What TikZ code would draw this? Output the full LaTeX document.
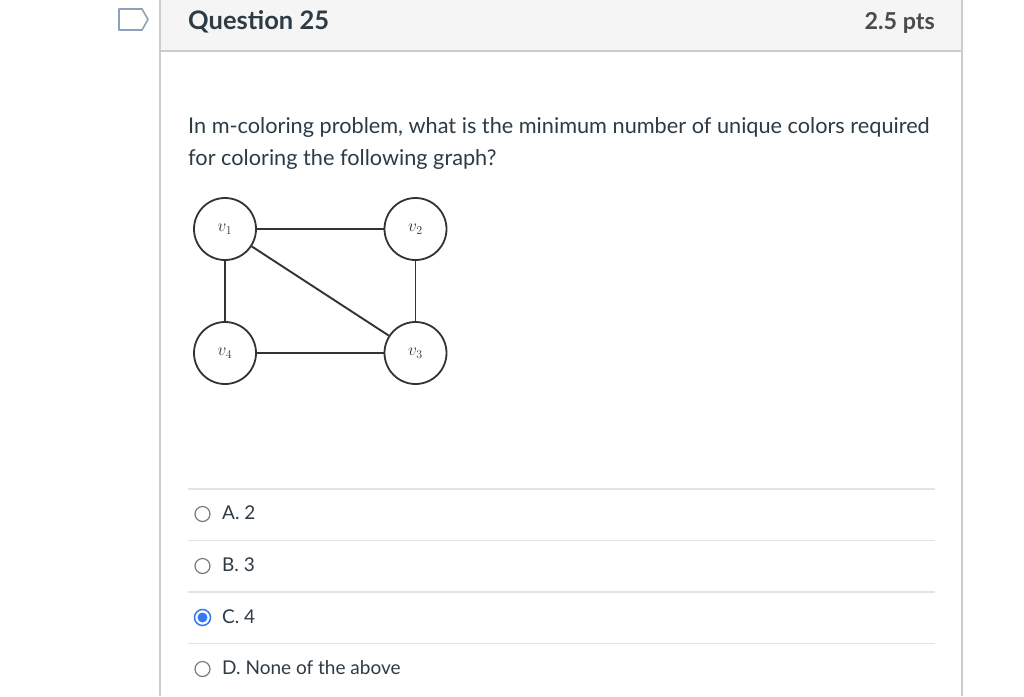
\documentclass[tikz,border=0pt]{standalone}
\usepackage{fontspec}
\setmainfont{Lato}
\definecolor{txt}{HTML}{2D3B45}
\definecolor{hdrbg}{HTML}{F5F5F5}
\definecolor{bord}{HTML}{C7CDD1}
\definecolor{sep}{HTML}{E4E4E4}
\definecolor{flag}{HTML}{8CA2BA}
\definecolor{radio}{HTML}{7A7A7A}
\definecolor{sel}{HTML}{3479F3}
\definecolor{gline}{HTML}{333333}
\definecolor{pts}{HTML}{4A4A4A}
\begin{document}
\begin{tikzpicture}[x=1pt,y=-1pt,
  vert/.style={circle,draw=gline,line width=1.8pt,minimum size=62pt,inner sep=0pt,text=gline,font=\fontsize{18}{18}\selectfont},
  edge/.style={draw=gline,line width=1.9pt},
  qtext/.style={anchor=base west,inner sep=0pt,text=txt,font=\fontsize{21.7}{26}\selectfont},
  choice/.style={anchor=base west,inner sep=0pt,text=txt,font=\fontsize{19}{22}\selectfont},
  radiobtn/.style={circle,draw=radio,line width=1.2pt,minimum size=15pt,inner sep=0pt},
  radiosel/.style={circle,draw=sel,line width=1.5pt,minimum size=16pt,inner sep=0pt},
  sepline/.style={draw=sep,line width=1.2pt},
  border/.style={draw=bord,line width=1.2pt}]
\useasboundingbox (0,0) rectangle (1024,696);
\fill[white] (0,0) rectangle (1024,696);
% header
\fill[hdrbg] (160,0) rectangle (962,51);
\draw[border] (160,51) -- (962,51);
\draw[border] (160,0) -- (160,696);
\draw[border] (962,0) -- (962,696);
% flag icon
\draw[flag,line width=1.6pt,line join=round] (119,9) -- (142,9) -- (148,19.5) -- (142,30) -- (119,30) -- cycle;
\node[anchor=base west,inner sep=0pt,text=txt,font=\fontsize{25.5}{28}\selectfont\bfseries] (qtitle) at (188,29.5) {Question 25};
\node[anchor=base east,inner sep=0pt,text=pts,font=\fontsize{23.3}{26}\selectfont\bfseries] (qpts) at (935,29.5) {2.5 pts};
% question text
\node[qtext] (q1) at (188,133) {In m-coloring problem, what is the minimum number of unique colors required};
\node[qtext] (q2) at (188,165) {for coloring the following graph?};
% graph
\node[vert] (v1) at (225,229) {$v_1$};
\node[vert] (v2) at (415.5,229) {$v_2$};
\node[vert] (v3) at (415.5,353) {$v_3$};
\node[vert] (v4) at (225,353) {$v_4$};
\draw[edge] (v1) -- (v2);
\draw[edge] (v2) -- (v3);
\draw[edge] (v3) -- (v4);
\draw[edge] (v4) -- (v1);
\draw[edge] (v1) -- (v3);
% separators
\draw[sepline] (188,489) -- (935,489);
\draw[sepline] (188,540.5) -- (935,540.5);
\draw[sepline] (188,592) -- (935,592);
\draw[sepline] (188,643.5) -- (935,643.5);
% choices
\node[radiobtn] (ra) at (202.5,514) {};
\node[choice] (ca) at (222,519.5) {A. 2};
\node[radiobtn] (rb) at (202.5,566) {};
\node[choice] (cb) at (222,571.5) {B. 3};
\node[radiosel] (rc) at (202.5,617.5) {};
\fill[sel] (rc.center) circle (5);
\node[choice] (cc) at (222,623) {C. 4};
\node[radiobtn] (rd) at (202.5,669) {};
\node[choice] (cd) at (222,674.5) {D. None of the above};
\end{tikzpicture}
\end{document}
